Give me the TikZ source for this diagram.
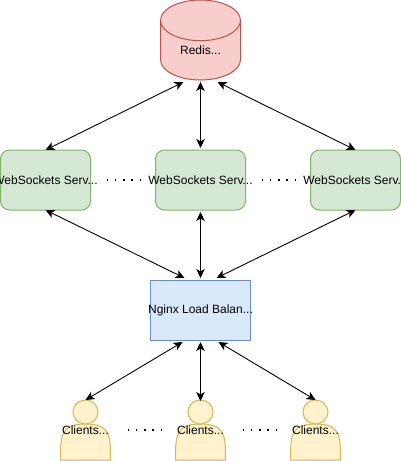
\documentclass[tikz,border=0pt]{standalone}
\usepackage{fontspec}
\setmainfont{Liberation Sans}
\usetikzlibrary{arrows.meta,positioning,shapes.geometric,backgrounds}
\definecolor{redisfill}{HTML}{F8CECC}
\definecolor{redisline}{HTML}{B85450}
\definecolor{srvfill}{HTML}{D5E8D4}
\definecolor{srvline}{HTML}{82B366}
\definecolor{lbfill}{HTML}{DAE8FC}
\definecolor{lbline}{HTML}{6C8EBF}
\definecolor{clientfill}{HTML}{FFF2CC}
\definecolor{clientline}{HTML}{D6B656}
\newcommand{\wide}[1]{\makebox[0pt][c]{#1}}
\tikzset{base/.style={font=\fontsize{12}{14}\selectfont,outer sep=0pt,inner sep=0pt,align=center,line width=1pt},srv/.style={base,draw=srvline,fill=srvfill,rounded corners=9pt,minimum width=90pt,minimum height=60pt},lb/.style={base,draw=lbline,fill=lbfill,minimum width=100pt,minimum height=60pt},store/.style={base,draw=redisline,fill=redisfill,cylinder,shape border rotate=90,aspect=1,minimum width=80pt,minimum height=80pt},client/.style={base,minimum width=50pt,minimum height=60pt},actor/.style={draw=clientline,fill=clientfill,line width=1pt},edge/.style={{Stealth[length=9pt,width=8.5pt,inset=2.4pt]}-{Stealth[length=9pt,width=8.5pt,inset=2.4pt]},line width=.9pt},dots/.style={line width=1.6pt,dash pattern=on 1.6pt off 6.7pt}}

\begin{document}
\begin{tikzpicture}[x=1pt,y=1pt]
\useasboundingbox (0,0) rectangle (401,-461);
\node[srv] (srv2) at (200.5,-180) {\wide{WebSockets Serv...}};
\node[srv,left=65pt of srv2] (srv1) {\wide{WebSockets Serv...}};
\node[srv,right=65pt of srv2] (srv3) {\wide{WebSockets Serv...}};
\node[store,above=70pt of srv2] (redis) {\raisebox{-2pt}{Redis...}};
\node[lb,below=70pt of srv2] (nginx) {\wide{Nginx Load Balan...}};
\node[client,below=60pt of nginx] (cl2) {\wide{Clients...}};
\node[client,left=65pt of cl2] (cl1) {\wide{Clients...}};
\node[client,right=65pt of cl2] (cl3) {\wide{Clients...}};
\begin{scope}[on background layer]
\foreach \c in {cl1,cl2,cl3}{\draw[actor] ([shift={(-25,-30)}]\c.center) .. controls ([shift={(-25,-6)}]\c.center) and ([shift={(-25,6)}]\c.center) .. ([shift={(0,6)}]\c.center) .. controls ([shift={(25,6)}]\c.center) and ([shift={(25,-6)}]\c.center) .. ([shift={(25,-30)}]\c.center) -- cycle;\draw[actor] ([yshift=18pt]\c.center) ellipse (12.5pt and 12pt);}
\end{scope}
\draw[edge] ([shift={(-17,-2)}]redis.south) -- (srv1.north);\draw[edge] ([yshift=-2pt]redis.south) -- ([yshift=2pt]srv2.north);\draw[edge] ([shift={(17,-2)}]redis.south) -- (srv3.north);
\draw[edge] (srv1.south) -- ([shift={(-16,2)}]nginx.north);\draw[edge] ([yshift=-2pt]srv2.south) -- ([yshift=2pt]nginx.north);\draw[edge] (srv3.south) -- ([shift={(16,2)}]nginx.north);
\draw[edge] ([shift={(-18,-2)}]nginx.south) -- (cl1.north);\draw[edge] ([yshift=-2pt]nginx.south) -- ([yshift=-1pt]cl2.north);\draw[edge] ([shift={(18,-2)}]nginx.south) -- (cl3.north);
\draw[dots] ([xshift=16pt]srv1.east) -- ([xshift=-14pt]srv2.west);\draw[dots] ([xshift=16pt]srv2.east) -- ([xshift=-14pt]srv3.west);
\draw[dots] ([xshift=17pt]cl1.east) -- ([xshift=-14pt]cl2.west);\draw[dots] ([xshift=17pt]cl2.east) -- ([xshift=-14pt]cl3.west);
\end{tikzpicture}
\end{document}
